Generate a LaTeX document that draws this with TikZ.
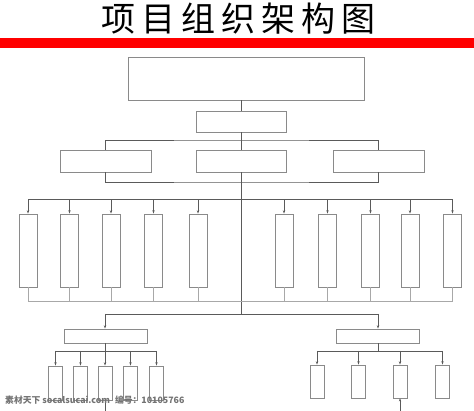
\documentclass[tikz,border=0pt]{standalone}
\usepackage{fontspec}
\newfontfamily\cjk{Noto Sans CJK SC}
\usetikzlibrary{arrows.meta}
\definecolor{boxgray}{HTML}{8A8A8A}
\definecolor{linegray}{HTML}{5A5A5A}
\definecolor{lightline}{HTML}{A8A8A8}
\tikzset{
  box/.style={draw=boxgray, line width=0.7pt, inner sep=0pt, fill=white},
  conn/.style={draw=linegray, line width=0.6pt},
  lconn/.style={draw=lightline, line width=0.6pt},
  arr/.style={conn, -{Stealth[length=3.5pt,width=2.4pt]}},
  tall/.style={box, minimum width=18pt, minimum height=73pt},
  small/.style={box, minimum width=14pt, minimum height=34pt},
}
\begin{document}
\begin{tikzpicture}[x=1pt,y=-1pt]
\useasboundingbox (0,0) rectangle (474,411);
% title
\node (title) at (238.5,19) {\cjk\fontsize{34pt}{34pt}\selectfont 项\hspace{6pt}目\hspace{6pt}组\hspace{6pt}织\hspace{6pt}架\hspace{6pt}构\hspace{6pt}图};
\fill[red] (0,38) rectangle (474,48);
% top levels
\node[box, minimum width=236pt, minimum height=43pt] (top) at (246,78.5) {};
\node[box, minimum width=90pt, minimum height=21pt] (mgr) at (241,121.5) {};
\node[box, minimum width=91pt, minimum height=22pt] (d1) at (105.5,161) {};
\node[box, minimum width=90pt, minimum height=22pt] (d2) at (241,161) {};
\node[box, minimum width=91pt, minimum height=22pt] (d3) at (378.5,161) {};
\draw[conn] (top.south -| mgr) -- (mgr.north);
\coordinate (j1) at (241,140);
\draw[conn] (mgr.south) -- (j1);
\draw[conn] (d1.north) |- (j1) -| (d3.north);
\draw[conn] (j1) -- (d2.north);
\coordinate (j2) at (241,182);
\draw[conn] (d1.south) |- (j2) -| (d3.south);
\coordinate (j3) at (241,314);
\draw[conn] (d2.south) -- (j3);
% tall boxes
\foreach \i/\x in {1/28,2/69.5,3/111,4/153.5,5/198,6/284,7/327.5,8/370.5,9/410,10/452.5}{
  \node[tall] (t\i) at (\x,250.5) {};
  \coordinate (ta\i) at (\x,199.5);
  \coordinate (tb\i) at (\x,301);
  \draw[arr] (ta\i) -- (t\i.north);
  \draw[lconn] (t\i.south) -- (tb\i);
}
\draw[conn] (ta1) -- (ta10);
\draw[lconn] (tb1) -- (tb10);
% lower groups
\node[box, minimum width=83pt, minimum height=14pt] (g1) at (105.5,336) {};
\node[box, minimum width=83pt, minimum height=14pt] (g2) at (377.5,336) {};
\coordinate (h1) at (105,314);
\coordinate (h2) at (378,314);
\draw[conn] (h1) -- (h2);
\draw[arr] (h1) -- (g1.north -| h1);
\draw[arr] (h2) -- (g2.north -| h2);
% left small boxes
\foreach \i/\x in {1/55.5,2/80.5,3/105,4/130.5,5/156.5}{
  \node[small] (s\i) at (\x,383) {};
  \coordinate (sa\i) at (\x,351);
  \draw[arr] (sa\i) -- (s\i.north);
}
\draw[conn] (sa1) -- (sa5);
\draw[conn] (g1.south -| sa3) -- (sa3);
% right small boxes
\foreach \i/\x in {1/317,2/358.5,3/400,4/442.5}{
  \node[small, minimum height=33pt] (r\i) at (\x,381.5) {};
  \coordinate (ra\i) at (\x,351);
  \draw[arr] (ra\i) -- (r\i.north);
}
\draw[conn] (ra1) -- (ra4);
\draw[conn] (g2.south -| h2) -- (h2 |- ra1);
% bottom exits
\coordinate (e1) at (105,411);
\coordinate (e2) at (400,411);
\draw[conn] (s3.south) -- (e1);
\draw[conn, {Stealth[length=3pt,width=2.2pt]}-] (r3.south) -- (e2);
% watermark
\node[text=black!55, anchor=west, inner sep=0pt] (wm) at (5,400) {\cjk\bfseries\fontsize{8.8pt}{10pt}\selectfont 素材天下 socalsucai.com\hspace{5pt}编号：10105766};
\end{tikzpicture}
\end{document}
